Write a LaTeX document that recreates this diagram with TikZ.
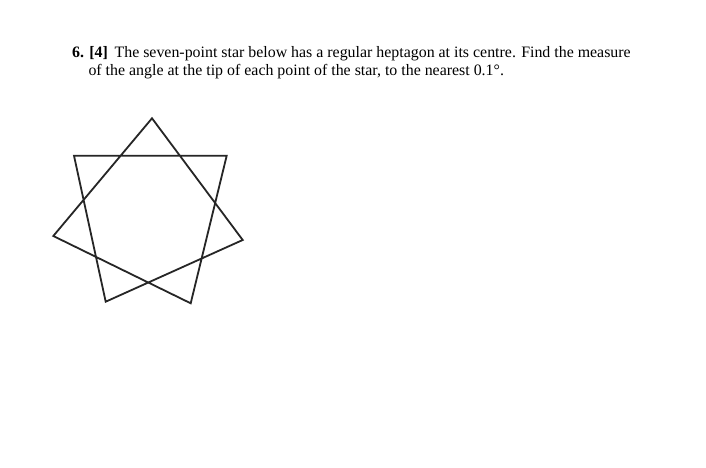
\documentclass[tikz,border=0pt]{standalone}
\usepackage{fontspec}
\setmainfont{Liberation Serif}
\usetikzlibrary{calc}
\newcommand{\lw}{1.8bp}

\begin{document}
\begin{tikzpicture}[x=1bp,y=-1bp,
  question/.style={anchor=base west,inner sep=0pt,font=\fontsize{15.9bp}{20bp}\selectfont},
  starline/.style={draw=black!85,line width=\lw,line join=miter}]
\useasboundingbox[fill=white] (0,0) rectangle (706,468);
% question text
\node[question] (q1) at (72,57.3) {\textbf{6. [4]}\, The seven-point star below has a regular heptagon at its centre. Find the measure};
\node[question] (q2) at (88.3,75.7) {of the angle at the tip of each point of the star, to the nearest 0.1°.};

% tips of the star
\coordinate (t1) at (152,118.3);
\coordinate (t2) at (226.7,155.7);
\coordinate (t3) at (242.7,240);
\coordinate (t4) at (190.7,303.3);
\coordinate (t5) at (105.7,301.7);
\coordinate (t6) at (53.3,236);
\coordinate (t7) at (74,155.7);

\draw[starline] (t1)--(t3)--(t5)--(t7)--(t2)--(t4)--(t6)--cycle;
\end{tikzpicture}
\end{document}
